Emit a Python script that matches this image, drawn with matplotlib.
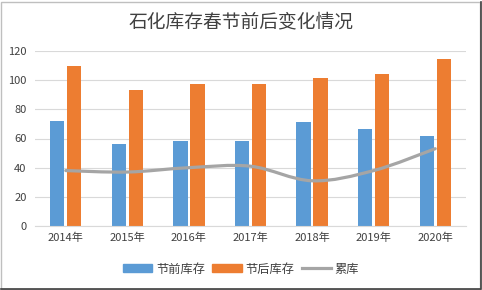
import matplotlib
matplotlib.use("Agg")
import matplotlib.pyplot as plt
from matplotlib.path import Path
from matplotlib.patches import PathPatch, Rectangle
from matplotlib.lines import Line2D
import numpy as np

plt.rcParams['font.family'] = ['Noto Sans CJK SC', 'DejaVu Sans']

categories = ['2014年', '2015年', '2016年', '2017年', '2018年', '2019年', '2020年']
before = [72, 56, 58, 58, 71, 66.5, 62]
after = [110, 93, 97.5, 97.5, 101.5, 104.5, 114.5]
accum = [38, 37, 40, 41, 31, 38, 53]
title = '石化库存春节前后变化情况'
series_names = ['节前库存', '节后库存', '累库']

blue = '#5B9BD5'
orange = '#ED7D31'
gray = '#A5A5A5'
txt = '#404040'

fig = plt.figure(figsize=(4.82, 2.90), dpi=100)
ax = fig.add_axes([35/482, 1-226/290, (466-35)/482, (226-51)/290])

x = np.arange(len(categories))
w = 0.23
off = 0.138
ax.bar(x - off, before, w, color=blue, zorder=2)
ax.bar(x + off, after, w, color=orange, zorder=2)

# smooth line (Excel-style) through data points
pts = np.column_stack([x, accum]).astype(float)
n = len(pts)
verts = [tuple(pts[0])]
codes = [Path.MOVETO]
for i in range(n - 1):
    p0 = pts[i - 1] if i > 0 else pts[i]
    p1 = pts[i]
    p2 = pts[i + 1]
    p3 = pts[i + 2] if i + 2 < n else pts[i + 1]
    c1 = p1 + (p2 - p0) / 6
    c2 = p2 - (p3 - p1) / 6
    verts += [tuple(c1), tuple(c2), tuple(p2)]
    codes += [Path.CURVE4] * 3
ax.add_patch(PathPatch(Path(verts, codes), facecolor='none', edgecolor=gray,
                       lw=2.3, zorder=3, capstyle='round'))

ax.set_xlim(-0.5, len(categories) - 0.5)
ax.set_ylim(0, 120)
ax.set_yticks(range(0, 121, 20))
ax.set_xticks(x)
ax.set_xticklabels(categories)
ax.grid(axis='y', color='#D9D9D9', lw=0.8, zorder=0)
for s in ['top', 'right', 'left']:
    ax.spines[s].set_visible(False)
ax.spines['bottom'].set_color('#D9D9D9')
ax.tick_params(axis='both', length=0, labelsize=8, colors=txt)
ax.tick_params(axis='y', pad=6)
ax.tick_params(axis='x', pad=5)

fig.text(0.5, 1 - 22/290, title, ha='center', va='center', fontsize=13.5, color=txt)

handles = [Rectangle((0, 0), 1, 1, color=blue), Rectangle((0, 0), 1, 1, color=orange),
           Line2D([0], [0], color=gray, lw=2.3)]
fig.legend(handles, series_names, loc='center', bbox_to_anchor=(0.5, 1 - 269/290),
           ncol=3, frameon=False, fontsize=8.8, handlelength=2.4, handleheight=0.55,
           columnspacing=0.6, handletextpad=0.3, labelcolor=txt)

# chart border
fig.add_artist(Rectangle((1/482, 1/290), 479/482, 287/290, transform=fig.transFigure,
                         fill=False, edgecolor='#BFBFBF', lw=1))
fig.add_artist(Line2D([1/482, 480/482], [1.5/290, 1.5/290], transform=fig.transFigure,
                      color='#404040', lw=1.2))
fig.add_artist(Line2D([480.5/482, 480.5/482], [1.5/290, 288/290], transform=fig.transFigure,
                      color='#404040', lw=1.2))

fig.savefig('out.png', dpi=100)
